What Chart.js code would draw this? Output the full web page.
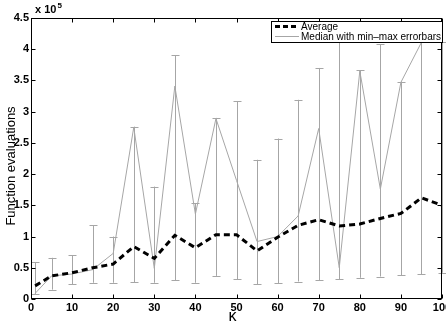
<!DOCTYPE html>
<html>
<head>
<meta charset="utf-8">
<style>
  html, body { margin: 0; padding: 0; background: #fff; }
  #wrap { width: 446px; height: 324px; position: relative; }
</style>
<script src="https://cdn.jsdelivr.net/npm/chart.js@4.4.0/dist/chart.umd.min.js"></script>
</head>
<body>
<div id="wrap"><canvas id="myChart" width="446" height="324"></canvas></div>
<script>
// kappa values (x) and function evaluations in units of 10^5
const kappa = [1, 5, 10, 15, 20, 25, 30, 35, 40, 45, 50, 55, 60, 65, 70, 75, 80, 85, 90, 95, 100];
const average = [0.21, 0.37, 0.42, 0.5, 0.56, 0.84, 0.65, 1.02, 0.82, 1.03, 1.03, 0.77, 0.99, 1.18, 1.27, 1.17, 1.2, 1.29, 1.37, 1.62, 1.5];
const median = [0.09, 0.37, 0.4, 0.47, 0.73, 2.75, 0.49, 3.41, 1.36, 2.89, 1.9, 0.92, 1.0, 1.33, 2.73, 0.5, 3.65, 1.76, 3.47, 4.11, 4.11];
const minVals = [0.08, 0.15, 0.24, 0.26, 0.26, 0.27, 0.26, 0.3, 0.26, 0.37, 0.32, 0.24, 0.25, 0.28, 0.3, 0.32, 0.34, 0.36, 0.38, 0.4, 0.42];
const maxVals = [0.59, 0.66, 0.7, 1.18, 1.0, 2.76, 1.8, 3.9, 1.53, 2.9, 3.17, 2.23, 2.57, 3.19, 3.7, 4.11, 3.66, 4.08, 3.48, 4.11, 4.11];
const xTicks = [0, 10, 20, 30, 40, 50, 60, 70, 80, 90, 100];
const yTicks = ["0", "0.5", "1", "1.5", "2", "2.5", "3", "3.5", "4", "4.5"];

const gGray = "#a6a6a6";
const gTickFont = "bold 11px 'Liberation Sans', Arial, sans-serif";

// errorbars (min-max) behind the lines
const errorBarPlugin = {
   id: "errorBars",
   beforeDatasetsDraw(chart) {
      const ctx = chart.ctx;
      const xs = chart.scales.x, ys = chart.scales.y;
      ctx.save();
      ctx.strokeStyle = gGray;
      ctx.lineWidth = 1;
      kappa.forEach(function (k, i) {
         const px = Math.round(xs.getPixelForValue(k)) + 0.5;
         const pMin = ys.getPixelForValue(minVals[i]);
         const pMax = ys.getPixelForValue(maxVals[i]);
         ctx.beginPath();
         ctx.moveTo(px, pMin);
         ctx.lineTo(px, pMax);
         ctx.moveTo(px - 4, Math.round(pMin) + 0.5);
         ctx.lineTo(px + 4, Math.round(pMin) + 0.5);
         ctx.moveTo(px - 4, Math.round(pMax) + 0.5);
         ctx.lineTo(px + 4, Math.round(pMax) + 0.5);
         ctx.stroke();
      });
      ctx.restore();
   }
};

// box, inward ticks, tick labels, titles and legend (matlab style)
const framePlugin = {
   id: "frame",
   afterDatasetsDraw(chart) {
      const ctx = chart.ctx;
      const a = chart.chartArea;
      const xs = chart.scales.x, ys = chart.scales.y;
      ctx.save();
      ctx.strokeStyle = "#000";
      ctx.lineWidth = 1;
      const L = Math.round(a.left) + 0.5, R = Math.round(a.right) - 0.5;
      const T = Math.round(a.top) + 0.5, B = Math.round(a.bottom) - 0.5;
      ctx.strokeRect(L, T, R - L, B - T);

      ctx.fillStyle = "#000";
      ctx.font = gTickFont;
      ctx.beginPath();
      xTicks.forEach(function (v) {
         const px = Math.round(xs.getPixelForValue(v)) + 0.5;
         ctx.moveTo(px, B); ctx.lineTo(px, B - 4);
         ctx.moveTo(px, T); ctx.lineTo(px, T + 4);
      });
      yTicks.forEach(function (t) {
         const py = Math.round(ys.getPixelForValue(parseFloat(t))) + 0.5;
         ctx.moveTo(L, py); ctx.lineTo(L + 4, py);
         ctx.moveTo(R, py); ctx.lineTo(R - 4, py);
      });
      ctx.stroke();

      ctx.textAlign = "center";
      ctx.textBaseline = "top";
      xTicks.forEach(function (v) {
         ctx.fillText(String(v), xs.getPixelForValue(v), a.bottom + 3);
      });
      ctx.textAlign = "right";
      ctx.textBaseline = "middle";
      yTicks.forEach(function (t) {
         ctx.fillText(t, a.left - 2, ys.getPixelForValue(parseFloat(t)));
      });

      // exponent label
      ctx.textAlign = "left";
      ctx.textBaseline = "alphabetic";
      ctx.fillText("x 10", 35, 13);
      const wExp = ctx.measureText("x 10").width;
      ctx.font = "bold 8px 'Liberation Sans', Arial, sans-serif";
      ctx.fillText("5", 35 + wExp + 1, 8);

      // axis titles
      ctx.font = "16px 'Liberation Sans', Arial, sans-serif";
      ctx.textAlign = "center";
      ctx.fillText("\u03ba", (a.left + a.right) / 2 - 4, 321);
      ctx.font = "13px 'Liberation Sans', Arial, sans-serif";
      ctx.save();
      ctx.translate(15, 166);
      ctx.rotate(-Math.PI / 2);
      ctx.fillText("Function evaluations", 0, 0);
      ctx.restore();

      // legend
      const lx = 271.5, ly = 21.5, lw = 171, lh = 21;
      ctx.fillStyle = "#fff";
      ctx.fillRect(lx, ly, lw, lh);
      ctx.strokeStyle = "#000";
      ctx.strokeRect(lx, ly, lw, lh);
      ctx.beginPath();
      ctx.lineWidth = 3;
      ctx.setLineDash([5, 3]);
      ctx.moveTo(275, 26.5); ctx.lineTo(299, 26.5);
      ctx.stroke();
      ctx.setLineDash([]);
      ctx.beginPath();
      ctx.lineWidth = 1;
      ctx.strokeStyle = gGray;
      ctx.moveTo(275, 36.5); ctx.lineTo(299, 36.5);
      ctx.stroke();
      ctx.fillStyle = "#000";
      ctx.font = "10px 'Liberation Sans', Arial, sans-serif";
      ctx.textAlign = "left";
      ctx.textBaseline = "middle";
      ctx.fillText(chart.data.datasets[0].label, 301, 27);
      ctx.fillText(chart.data.datasets[1].label, 301, 37);
      ctx.restore();
   }
};

var chartCanvas = document.getElementById("myChart").getContext("2d");
new Chart(chartCanvas, {
   type: "line",
   data: {
      datasets: [
         {
            label: "Average",
            data: kappa.map((k, i) => ({ x: k, y: average[i] })),
            borderColor: "#000",
            borderWidth: 3,
            borderDash: [6, 4],
            pointRadius: 0,
            fill: false,
            tension: 0,
         },
         {
            label: "Median with min\u2013max errorbars",
            data: kappa.map((k, i) => ({ x: k, y: median[i] })),
            borderColor: gGray,
            borderWidth: 1,
            pointRadius: 0,
            fill: false,
            tension: 0,
         },
      ],
   },
   options: {
      responsive: false,
      animation: false,
      events: [],
      layout: { padding: { top: 18, right: 4, left: 0, bottom: 0 } },
      plugins: { legend: { display: false }, tooltip: { enabled: false } },
      scales: {
         x: {
            type: "linear",
            min: 0,
            max: 100,
            grid: { display: false },
            border: { display: false },
            ticks: { display: false, stepSize: 10 },
            afterFit: function (scale) { scale.height = 25; },
         },
         y: {
            min: 0,
            max: 4.5,
            grid: { display: false },
            border: { display: false },
            ticks: { display: false, stepSize: 0.5 },
            afterFit: function (scale) { scale.width = 31; },
         },
      },
   },
   plugins: [errorBarPlugin, framePlugin],
});
</script>
</body>
</html>
